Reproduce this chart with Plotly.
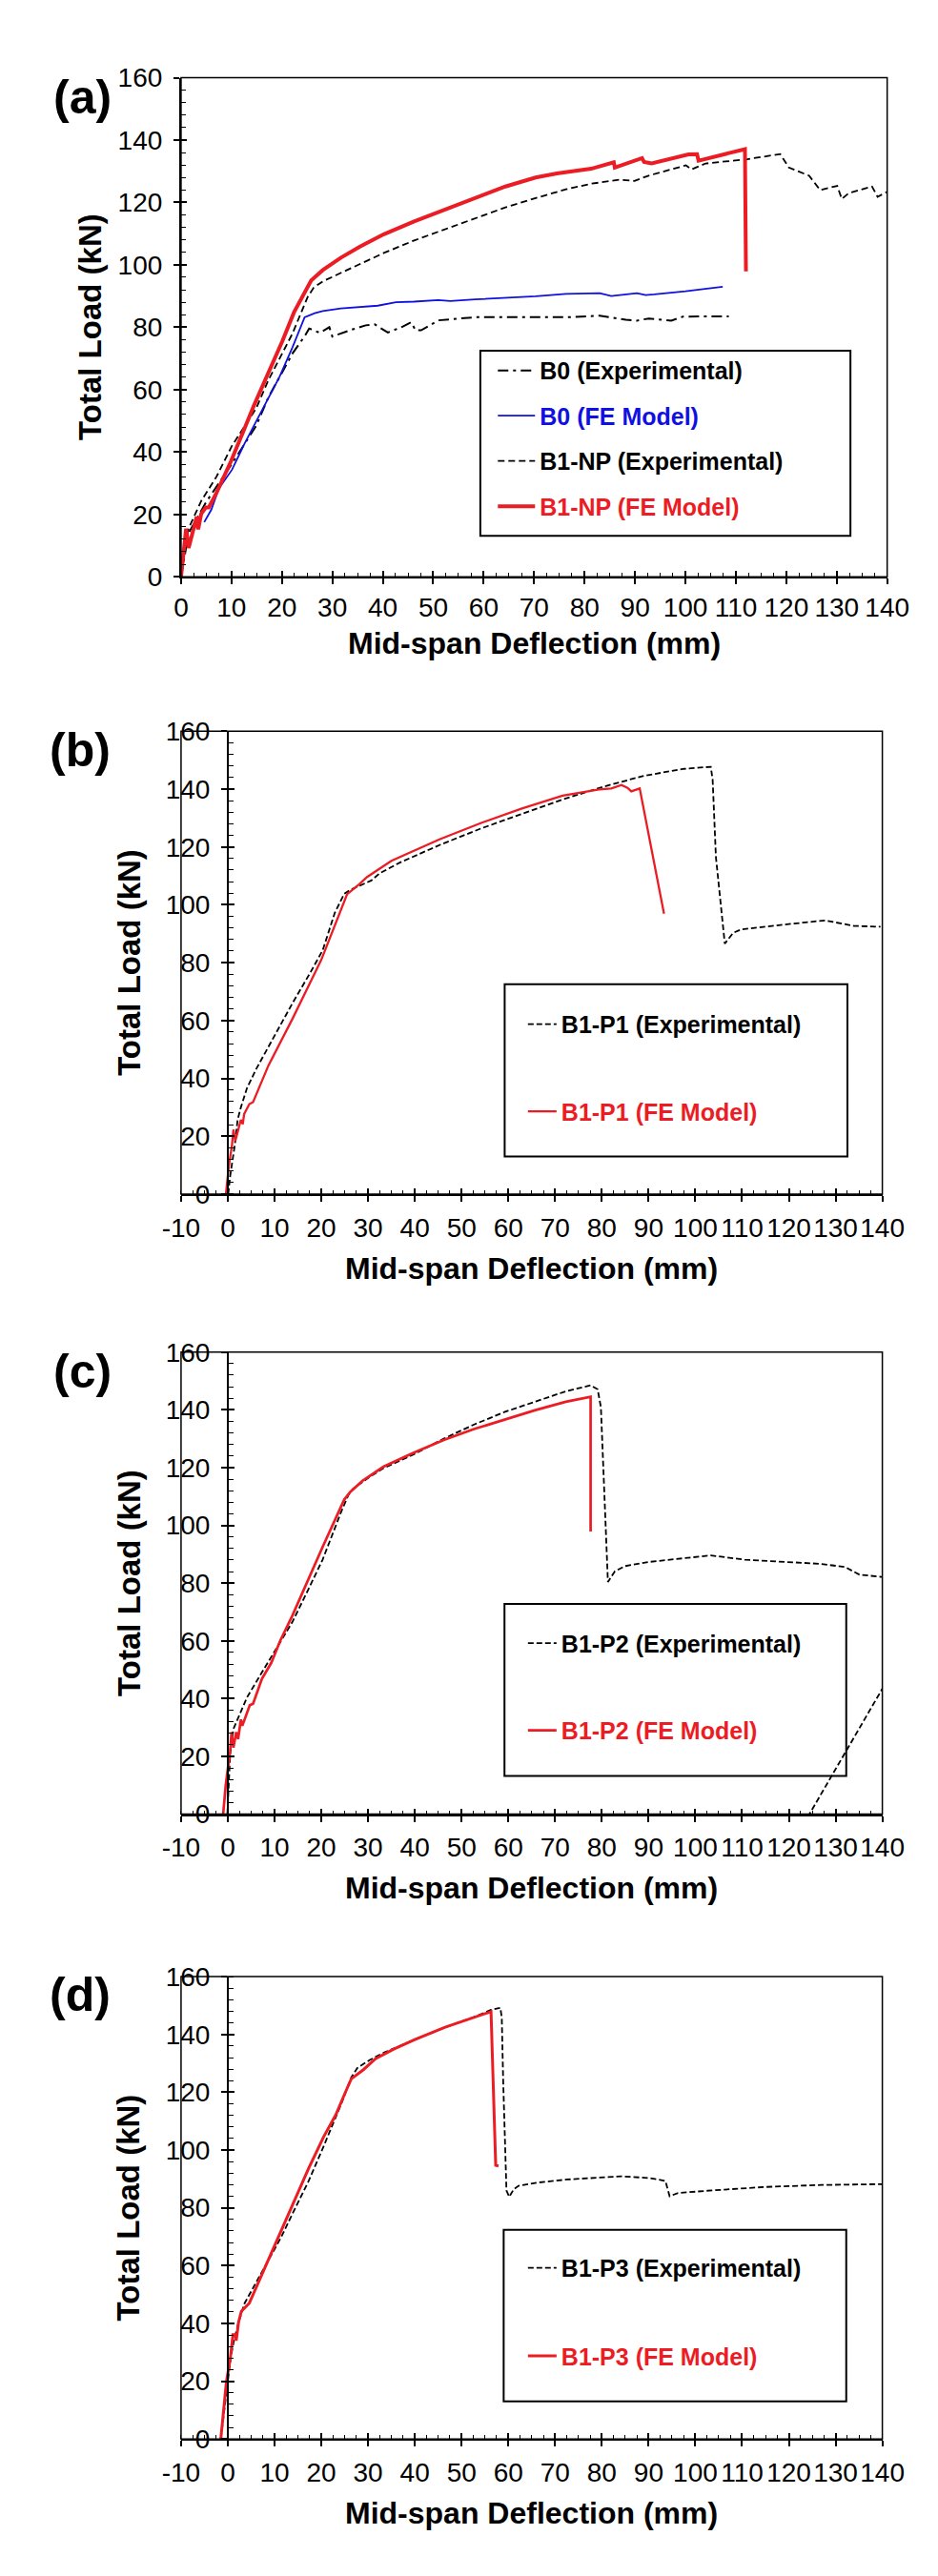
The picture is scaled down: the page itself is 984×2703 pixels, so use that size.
import plotly.graph_objects as go

W, H = 984, 2703
FONT = "Liberation Sans, Arial, Helvetica, sans-serif"
RED = "#EC1C24"
BLUE = "#1010E0"
BLACK = "#000000"

# ---------------- data ----------------
# tick labels
x_ticks_a = [0, 10, 20, 30, 40, 50, 60, 70, 80, 90, 100, 110, 120, 130, 140]
x_ticks_bcd = [-10, 0, 10, 20, 30, 40, 50, 60, 70, 80, 90, 100, 110, 120, 130, 140]
y_ticks = [0, 20, 40, 60, 80, 100, 120, 140, 160]

# (a) B0 experimental
a_b0_exp_x = [0, 1.5, 5, 10, 14.9, 17.3, 19.7, 22.1, 24.5, 25.4, 27.5, 29.4, 30.0, 33.6, 36.6,
              38.4, 41.0, 43.8, 45.6, 46.5, 47.6, 51.0, 58.3, 64.3, 76.3, 83.0, 88.2, 90.4,
              92.7, 97.2, 99.5, 108.6]
a_b0_exp_y = [0, 14, 24, 36, 48.4, 57.5, 64.5, 71.6, 77.1, 79.6, 78.2, 80.0, 77.0, 79.1, 80.6,
              80.9, 78.3, 80.1, 81.6, 79.0, 79.0, 82.2, 83.2, 83.2, 83.2, 83.7, 82.4, 82.1,
              82.8, 82.1, 83.4, 83.5]
# (a) B0 FE model
a_b0_fe_x = [4.6, 6.0, 7.5, 10.1, 12.5, 16.1, 19.5, 22.1, 24.5, 26.5, 28.1, 31.7, 35.4, 39.0,
             42.6, 46.2, 51.0, 53.4, 58.3, 64.3, 70.3, 76.3, 83.0, 85.3, 90.4, 92.1, 93.8,
             100.0, 107.4]
a_b0_fe_y = [17.5, 21.5, 28.3, 34.3, 42.4, 53.5, 64.0, 73.6, 83.2, 84.5, 85.2, 86.0, 86.5, 86.9,
             88.0, 88.2, 88.7, 88.4, 88.9, 89.4, 89.9, 90.7, 90.9, 90.0, 90.9, 90.3, 90.5,
             91.5, 93.0]
# (a) B1-NP experimental
a_b1_exp_x = [0, 0.8, 1.5, 4.0, 7.0, 10.1, 14.9, 17.3, 22.1, 25.1, 26.3, 28.1, 34.2, 40.2, 46.2,
              52.2, 58.3, 64.3, 70.3, 76.3, 81.3, 87.0, 89.9, 92.7, 100.1, 101.2, 104.0, 112.0,
              118.8, 120.5, 124.5, 126.7, 130.1, 131.0, 132.4, 137.0, 138.1, 140.0]
a_b1_exp_y = [0, 10, 15.5, 24.3, 32, 42, 54, 63, 78, 89.7, 92.7, 94.7, 99.3, 103.8, 107.8,
              111.3, 114.9, 118.4, 121.4, 124.2, 126.0, 127.3, 126.9, 128.6, 131.9, 130.6, 132.5,
              133.8, 135.5, 131.2, 128.6, 124.0, 125.3, 121.1, 123.0, 125.1, 121.8, 123.4]
# (a) B1-NP FE model
a_b1_fe_x = [0, 1.0, 1.5, 2.2, 3.1, 3.4, 4.0, 4.9, 5.5, 7.0, 9.9, 14.4, 20.1, 22.4, 25.8, 28.1,
             31.7, 35.4, 40.2, 46.2, 52.2, 58.3, 64.3, 70.3, 74.5, 81.3, 85.8, 86.0, 91.4, 91.8,
             93.3, 100.6, 102.3, 102.6, 111.8, 112.0]
a_b1_fe_y = [0, 15.4, 9.2, 14.0, 19.2, 15.2, 20.2, 22.2, 22.2, 26.8, 37.0, 54.7, 75.6, 84.8, 95.0,
             98.3, 102.3, 105.8, 109.8, 113.9, 117.6, 121.6, 125.1, 128.0, 129.3, 130.8, 132.9,
             131.2, 134.2, 133.0, 132.5, 135.4, 135.5, 133.4, 137.1, 97.9]

# (b) B1-P1
b_exp_x = [0.1, 0.5, 1.5, 2.1, 2.8, 4.1, 6.0, 8.6, 11.2, 13.8, 17.7, 20.3, 22.9, 24.9, 26.4, 30.7,
           32.5, 36.8, 45.5, 54.2, 62.9, 71.6, 80.3, 89.0, 97.6, 103.3, 103.7, 104.4, 106.3,
           108.1, 109.8, 114.3, 120.4, 127.8, 129.0, 133.9, 139.6]
b_exp_y = [0, 6.2, 17, 25.7, 30, 36.6, 43, 50.7, 58.3, 65.9, 76.7, 84.3, 97.3, 103.8, 105.3, 108.4,
           110.9, 114.6, 120.8, 126.4, 131.4, 136.4, 140.8, 144.6, 147.0, 147.7, 143.3, 116.5,
           86.6, 90.3, 91.5, 92.4, 93.4, 94.6, 94.2, 92.7, 92.4]
b_fe_x = [-0.4, 0.2, 0.9, 1.2, 1.6, 2.8, 3.2, 3.5, 4.6, 5.4, 8.7, 9.9, 13.9, 20.0, 22.0, 25.5, 28.1,
          29.8, 35.0, 40.2, 45.4, 54.2, 62.9, 71.6, 79.4, 82.0, 84.2, 85.5, 86.3, 88.1, 93.3]
b_fe_y = [0, 9.4, 17, 22.3, 18.4, 25.7, 24.2, 27.7, 31.1, 31.8, 44.5, 48.3, 60.8, 81, 89.1, 103.6,
          107.1, 109.6, 115.2, 119, 122.7, 128.3, 133.3, 137.7, 139.9, 140.2, 141.4, 140.4,
          139.2, 140.2, 96.9]

# (c) B1-P2
c_exp_x = [-0.1, 0.5, 1.2, 2.1, 4.1, 7.3, 10.6, 13.8, 17.1, 20.3, 24.2, 25.8, 26.8, 30.1, 33.3,
           39.8, 46.3, 52.8, 59.3, 65.8, 72.3, 77.6, 79.1, 79.8, 81.3, 82.8, 85.0, 89.9, 96.0,
           103.3, 110.6, 120.4, 126.5, 132.0, 135.1, 139.6, 153.5, 124.4]
c_exp_y = [0, 20.8, 29.5, 32.8, 40.4, 49.1, 57.8, 66.5, 77.4, 88.2, 104.5, 110.5, 112.7, 116.5,
           119.8, 124.6, 130.1, 135.0, 139.3, 142.8, 146.4, 148.5, 147.1, 140.9, 80.4, 84.1,
           85.9, 87.3, 88.4, 89.6, 88.1, 87.3, 86.7, 85.6, 82.9, 82.2, 81.0, 0]
c_fe_x = [-1.0, -0.45, 0.5, 0.8, 1.2, 1.8, 2.2, 2.8, 3.1, 4.7, 5.4, 7.3, 9.3, 11.2, 13.8, 20.3,
          24.9, 26.2, 28.8, 33.3, 39.8, 46.3, 52.8, 59.3, 65.8, 72.3, 77.6, 77.6]
c_fe_y = [0, 10, 21.9, 28.4, 23, 28.4, 26, 32.8, 30.6, 37.7, 38.2, 46.9, 52.4, 60, 68.7, 92.6,
          108.9, 111.6, 115.4, 120.3, 125.2, 129.6, 133.4, 136.6, 139.9, 142.8, 144.5, 97.9]

# (d) B1-P3
d_exp_x = [-1.5, 0, 0.65, 1.3, 2.3, 3.6, 6.2, 8.8, 11.4, 14.0, 17.3, 20.5, 24.4, 26.4, 27.7, 30.3,
           33.5, 40.0, 46.5, 53.1, 56.3, 58.3, 58.6, 58.9, 59.6, 60.2, 61.2, 62.2, 66.1, 72.6,
           84.1, 90.2, 93.6, 94.5, 96.3, 102.5, 114.7, 127.0, 140.0]
d_exp_y = [0, 20.9, 28.5, 33.9, 40.4, 47, 54.6, 62.2, 69.8, 78.5, 89.3, 101.3, 116.5, 125.1, 128.4,
           131.1, 133.8, 138.2, 142.5, 146.3, 148.5, 149.2, 145.8, 124, 86, 83.8, 86.5, 87.6,
           88.7, 89.8, 90.9, 90.3, 89.3, 84.0, 85.1, 85.9, 87.2, 87.9, 88.2]
d_fe_x = [-1.5, -1.0, -0.3, 0.5, 1.1, 1.6, 1.8, 2.3, 2.9, 4.6, 6.2, 8.1, 10.1, 14.0, 17.3, 20.5,
          23.1, 25.1, 26.4, 29.0, 31.6, 35.5, 40.0, 46.5, 53.1, 56.3, 57.3, 57.9]
d_fe_y = [0, 8.9, 19.8, 27.4, 36.1, 36.1, 34, 40.4, 44.2, 47, 52.9, 60, 67.6, 81.7, 93.7, 104.6,
          112.2, 119.8, 124.6, 127.8, 131.6, 134.9, 138.2, 142.5, 146.3, 147.9, 94.7, 94.5]

# ---------------- layout helpers ----------------
def fx(px):
    return px / W


def fy(py):
    return 1 - py / H


panels = [
    dict(letter="(a)", L=177.7, R=952.3, T=67.3, B=597.0, xmin=0, xt=x_ticks_a, xso=0,
         lp=(70, 88), ytx=78, xty=668, box=(506, 357, 912, 553.5),
         leg=dict(L=520, T=355, gap=12, iw=39)),
    dict(letter="(b)", L=177.7, R=947.0, T=761.0, B=1252.3, xmin=-10, xt=x_ticks_bcd, xso=3,
         lp=(67, 781), ytx=120, xty=1331, box=(532.7, 1029.5, 908.7, 1212.3),
         leg=dict(L=553, T=1049, gap=56, iw=30)),
    dict(letter="(c)", L=177.7, R=947.0, T=1420.0, B=1910.5, xmin=-10, xt=x_ticks_bcd, xso=3,
         lp=(70, 1441), ytx=120, xty=1989, box=(532.5, 1687.3, 907.4, 1870.0),
         leg=dict(L=553, T=1706, gap=56, iw=30)),
    dict(letter="(d)", L=177.7, R=947.0, T=2083.0, B=2573.7, xmin=-10, xt=x_ticks_bcd, xso=3,
         lp=(67, 2102), ytx=120, xty=2652, box=(531.6, 2351.6, 907.4, 2533.7),
         leg=dict(L=553, T=2369, gap=57, iw=30)),
]


def span(name, color):
    return f"<span style='color:{color}'><b>{name}</b></span>"


series = [
    [
        (a_b0_exp_x, a_b0_exp_y, "B0 (Experimental)", BLACK, 2.0, "11px,5px,3px,5px"),
        (a_b0_fe_x, a_b0_fe_y, "B0 (FE Model)", BLUE, 1.8, "solid"),
        (a_b1_exp_x, a_b1_exp_y, "B1-NP (Experimental)", BLACK, 1.8, "7px,4px"),
        (a_b1_fe_x, a_b1_fe_y, "B1-NP (FE Model)", RED, 4.0, "solid"),
    ],
    [
        (b_exp_x, b_exp_y, "B1-P1 (Experimental)", BLACK, 1.8, "6px,3px"),
        (b_fe_x, b_fe_y, "B1-P1 (FE Model)", RED, 2.3, "solid"),
    ],
    [
        (c_exp_x, c_exp_y, "B1-P2 (Experimental)", BLACK, 1.8, "6px,3px"),
        (c_fe_x, c_fe_y, "B1-P2 (FE Model)", RED, 2.7, "solid"),
    ],
    [
        (d_exp_x, d_exp_y, "B1-P3 (Experimental)", BLACK, 1.8, "6px,3px"),
        (d_fe_x, d_fe_y, "B1-P3 (FE Model)", RED, 3.0, "solid"),
    ],
]

fig = go.Figure()
layout = dict(width=W, height=H, margin=dict(l=0, r=0, t=0, b=0),
              paper_bgcolor="white", plot_bgcolor="white",
              font=dict(family=FONT, color="black"), showlegend=True)
shapes = []
annotations = []
TICKFONT = dict(family=FONT, size=28, color="black")

for i, p in enumerate(panels):
    n = i + 1
    xid = "x" if n == 1 else f"x{n}"
    yid = "y" if n == 1 else f"y{n}"
    xkey = "xaxis" if n == 1 else f"xaxis{n}"
    ykey = "yaxis" if n == 1 else f"yaxis{n}"
    xo_id, yo_id = f"x{n + 4}", f"y{n + 4}"
    xo_key, yo_key = f"xaxis{n + 4}", f"yaxis{n + 4}"
    xdom = [fx(p["L"]), fx(p["R"])]
    ydom = [fy(p["B"]), fy(p["T"])]
    xr = [p["xmin"], 140]
    zero_px = p["L"] + (0 - p["xmin"]) / (140 - p["xmin"]) * (p["R"] - p["L"])

    layout[xkey] = dict(domain=xdom, range=xr, anchor=yid, showline=True, linewidth=2,
                        linecolor="black", ticks="outside", ticklen=6, tickwidth=1.6,
                        tickcolor="black", tickmode="array", tickvals=p["xt"],
                        ticktext=[str(v) for v in p["xt"]],
                        minor=dict(ticks="inside", ticklen=4, tickwidth=1.2, tickcolor="black",
                                   tickmode="linear", tick0=0, dtick=2.5, showgrid=False),
                        showgrid=False, zeroline=False, tickfont=TICKFONT,
                        ticklabelstandoff=p["xso"], fixedrange=True)
    yax = dict(domain=ydom, range=[0, 160], showline=True, linewidth=2, linecolor="black",
               ticks="outside", ticklen=6, tickwidth=1.6, tickcolor="black",
               tickmode="array", tickvals=y_ticks, ticktext=[str(v) for v in y_ticks],
               minor=dict(ticks="inside", ticklen=5, tickwidth=1.2, tickcolor="black",
                          tickmode="linear", tick0=0, dtick=4, showgrid=False),
               showgrid=False, zeroline=False, tickfont=TICKFONT, ticklabelstandoff=6,
               fixedrange=True)
    if n == 1:
        yax["anchor"] = xid
    else:
        yax["anchor"] = "free"
        yax["position"] = fx(zero_px)
    layout[ykey] = yax

    # overlay axes giving the inner half of the crossing major ticks
    layout[xo_key] = dict(domain=xdom, range=xr, anchor=yid, overlaying=xid, showline=False,
                          ticks="inside", ticklen=6, tickwidth=1.6, tickcolor="black",
                          tickmode="array", tickvals=p["xt"], showticklabels=False,
                          showgrid=False, zeroline=False, fixedrange=True)
    yo = dict(domain=ydom, range=[0, 160], overlaying=yid, showline=False, ticks="inside",
              ticklen=6, tickwidth=1.6, tickcolor="black", tickmode="array",
              tickvals=y_ticks, showticklabels=False, showgrid=False, zeroline=False,
              fixedrange=True)
    if n == 1:
        yo["anchor"] = xid
    else:
        yo["anchor"] = "free"
        yo["position"] = fx(zero_px)
    layout[yo_key] = yo
    fig.add_trace(go.Scatter(x=[], y=[], xaxis=xo_id, yaxis=yid, showlegend=False,
                             hoverinfo="skip"))
    fig.add_trace(go.Scatter(x=[], y=[], xaxis=xid, yaxis=yo_id, showlegend=False,
                             hoverinfo="skip"))

    # data traces
    legkey = "legend" if n == 1 else f"legend{n}"
    for k, (xs, ys, name, color, lw, dash) in enumerate(series[i]):
        fig.add_trace(go.Scatter(x=xs, y=ys, mode="lines", xaxis=xid, yaxis=yid,
                                 name=span(name, color), legend=legkey,
                                 legendgroup=f"{n}-{k}",
                                 line=dict(color=color, width=lw, dash=dash)))

    lg = p["leg"]
    layout[legkey] = dict(x=fx(lg["L"]), y=fy(lg["T"]), xanchor="left", yanchor="top",
                          bgcolor="rgba(0,0,0,0)", borderwidth=0, traceorder="grouped",
                          tracegroupgap=lg["gap"], itemwidth=lg["iw"],
                          font=dict(family=FONT, size=25, color="black"))

    # plot frame
    shapes.append(dict(type="rect", xref=f"{xid} domain", yref=f"{yid} domain",
                       x0=0, x1=1, y0=0, y1=1, line=dict(color="black", width=1.5),
                       fillcolor="rgba(0,0,0,0)", layer="above"))
    # legend box
    bx0, by0, bx1, by1 = p["box"]
    shapes.append(dict(type="rect", xref="paper", yref="paper", x0=fx(bx0), x1=fx(bx1),
                       y0=fy(by1), y1=fy(by0), line=dict(color="black", width=2),
                       fillcolor="rgba(0,0,0,0)", layer="above"))

    # texts
    annotations.append(dict(text="<b>" + p["letter"] + "</b>", x=fx(p["lp"][0]),
                            y=fy(p["lp"][1]), xref="paper", yref="paper", showarrow=False,
                            xanchor="center", yanchor="middle",
                            font=dict(family=FONT, size=50, color="black")))
    annotations.append(dict(text="<b>Mid-span Deflection (mm)</b>",
                            x=fx((p["L"] + p["R"]) / 2), y=fy(p["xty"]), xref="paper",
                            yref="paper", showarrow=False, xanchor="center", yanchor="middle",
                            font=dict(family=FONT, size=32, color="black")))
    annotations.append(dict(text="<b>Total Load (kN)</b>", x=fx(p["ytx"]),
                            y=fy((p["T"] + p["B"]) / 2), xref="paper", yref="paper",
                            showarrow=False, textangle=-90, xanchor="center",
                            yanchor="middle", font=dict(family=FONT, size=33, color="black")))

layout["shapes"] = shapes
layout["annotations"] = annotations
fig.update_layout(**layout)
fig.write_html("out.html")
